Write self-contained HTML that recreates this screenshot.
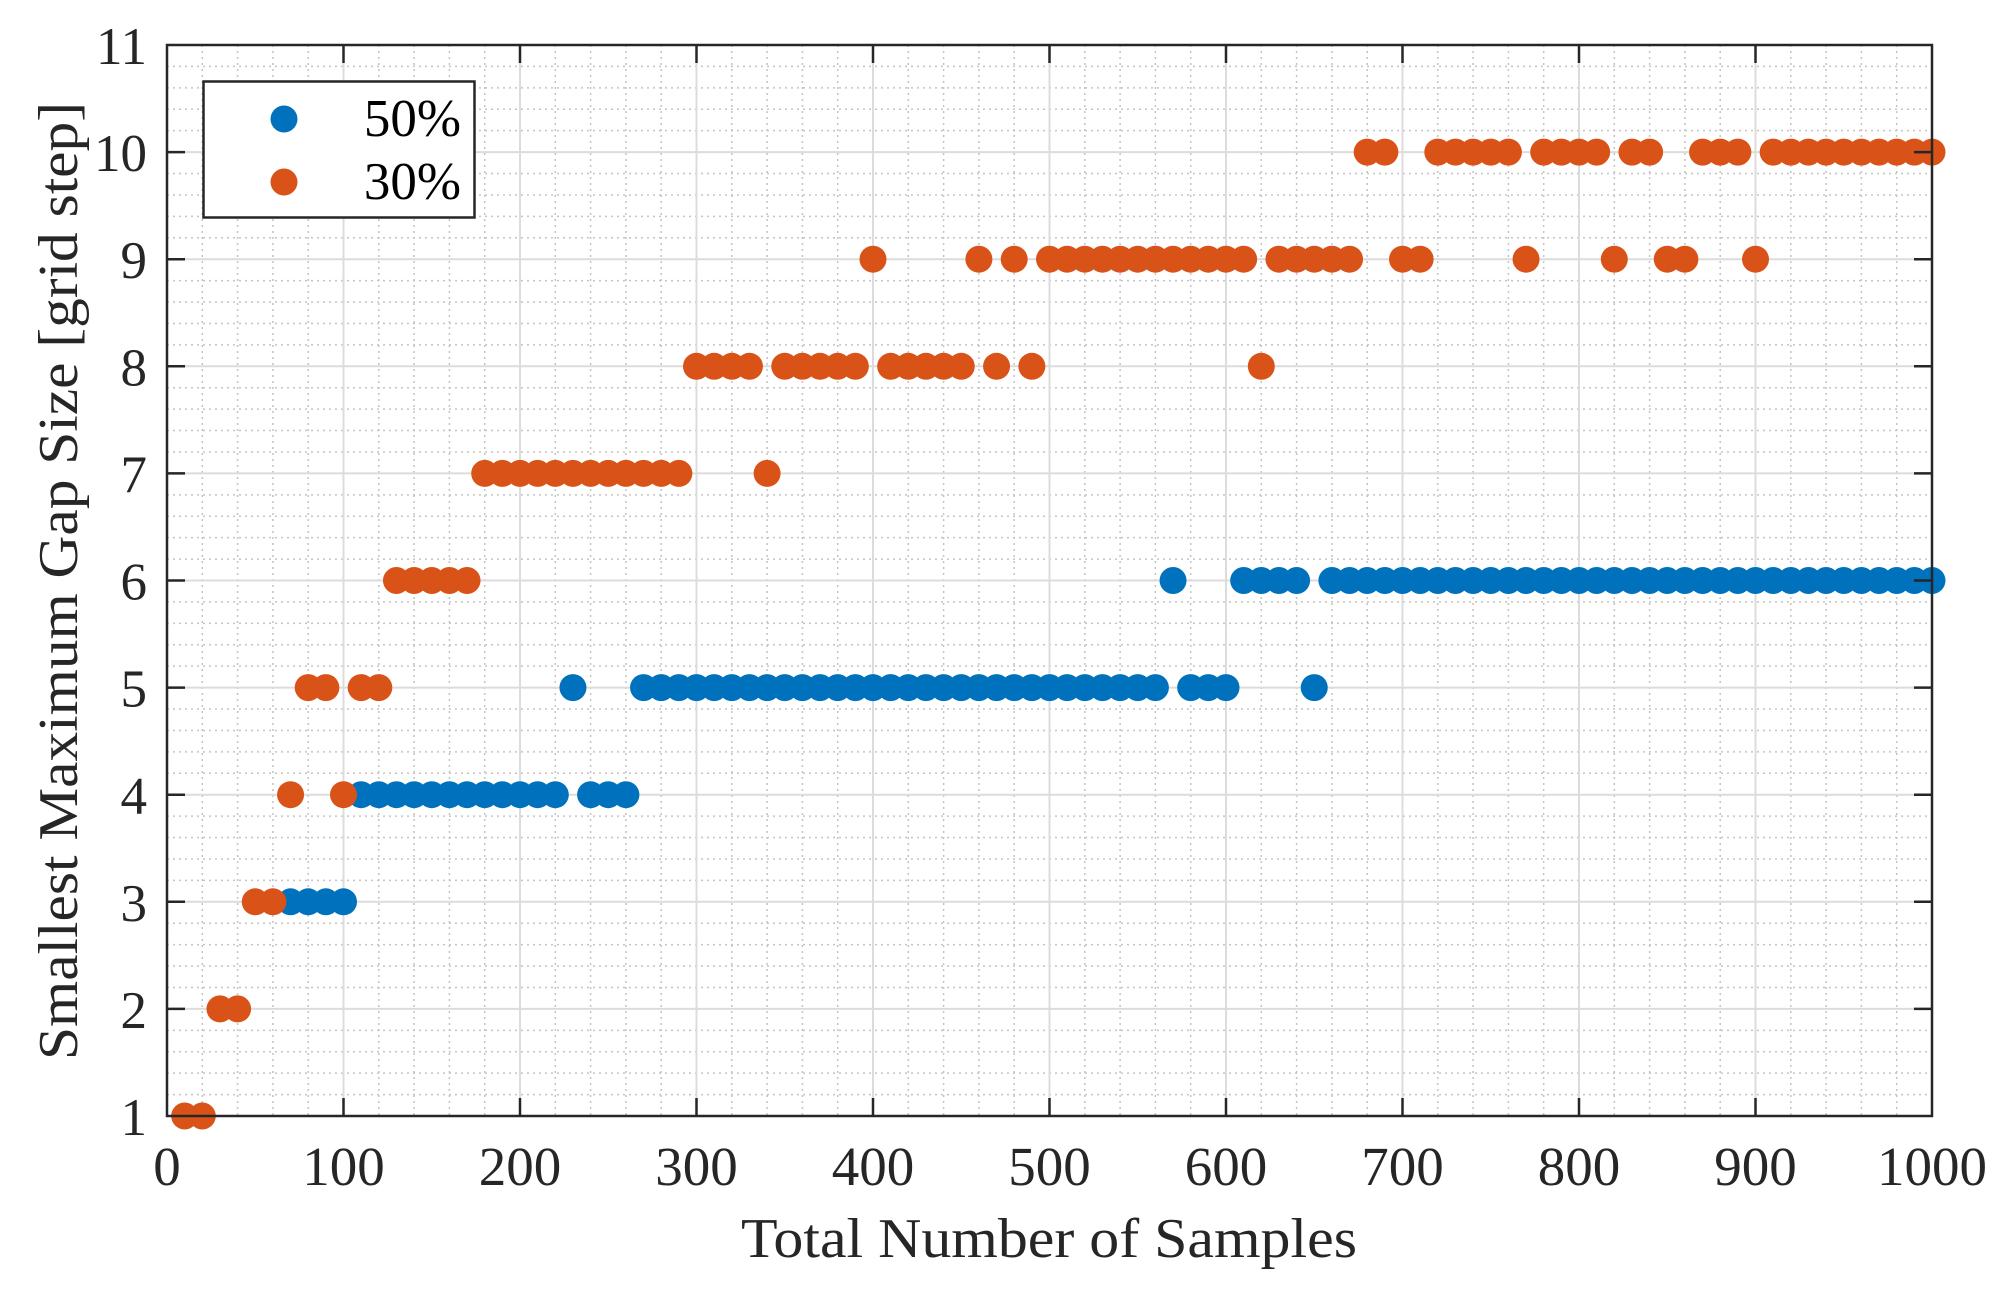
<!DOCTYPE html>
<html><head><meta charset="utf-8"><style>
html,body{margin:0;padding:0;background:#fff;}
svg{display:block;font-family:"Liberation Serif",serif;}
</style></head><body>
<svg id="s" width="2004" height="1299" xmlns="http://www.w3.org/2000/svg">
<rect width="2004" height="1299" fill="#fff"/>
<g id="grid"></g>
<g id="pts"></g>
<rect x="167" y="45" width="1765" height="1071" fill="none" stroke="#262626" stroke-width="2.5"/>
<g id="ticks"></g>
<g id="labels" fill="#262626" font-size="53"></g>
<text x="1049" y="1257" font-size="56" text-anchor="middle" fill="#262626" textLength="616" lengthAdjust="spacingAndGlyphs">Total Number of Samples</text>
<text transform="translate(77,581) rotate(-90)" font-size="56" text-anchor="middle" fill="#262626" textLength="958" lengthAdjust="spacingAndGlyphs">Smallest Maximum Gap Size [grid step]</text>
<rect x="203.5" y="81.5" width="271" height="136" fill="#fff" stroke="#262626" stroke-width="2.5"/>
<circle cx="284" cy="119" r="13.5" fill="#0072BD"/>
<circle cx="284" cy="182" r="13.5" fill="#D95319"/>
<text x="461" y="136" font-size="53" text-anchor="end" fill="#000">50%</text>
<text x="461" y="199" font-size="53" text-anchor="end" fill="#000">30%</text>
</svg>
<script>
var NS="http://www.w3.org/2000/svg";
function X(v){return 167+v*1.765;}
function Y(v){return 1116-(v-1)*107.1;}
function el(p,t,a){var e=document.createElementNS(NS,t);for(var k in a)e.setAttribute(k,a[k]);p.appendChild(e);return e;}
var g=document.getElementById('grid');
for(var v=20;v<1000;v+=20){if(v%100)el(g,'line',{x1:X(v),x2:X(v),y1:45,y2:1116,stroke:'#c4c4c4','stroke-width':1.5,'stroke-dasharray':'2,4'});}
for(var i=1;i<50;i++){if(i%5)el(g,'line',{x1:167,x2:1932,y1:Y(1+i*0.2),y2:Y(1+i*0.2),stroke:'#c4c4c4','stroke-width':1.5,'stroke-dasharray':'2,4'});}
for(var v=100;v<1000;v+=100)el(g,'line',{x1:X(v),x2:X(v),y1:45,y2:1116,stroke:'#dcdcdc','stroke-width':2});
for(var v=2;v<11;v++)el(g,'line',{x1:167,x2:1932,y1:Y(v),y2:Y(v),stroke:'#dcdcdc','stroke-width':2});
var t=document.getElementById('ticks');
for(var v=100;v<1000;v+=100){el(t,'line',{x1:X(v),x2:X(v),y1:1116,y2:1098,stroke:'#262626','stroke-width':2.5});el(t,'line',{x1:X(v),x2:X(v),y1:45,y2:63,stroke:'#262626','stroke-width':2.5});}
for(var v=2;v<11;v++){el(t,'line',{x1:167,x2:185,y1:Y(v),y2:Y(v),stroke:'#262626','stroke-width':2.5});el(t,'line',{x1:1932,x2:1914,y1:Y(v),y2:Y(v),stroke:'#262626','stroke-width':2.5});}
var L=document.getElementById('labels');
for(var v=0;v<=1000;v+=100){var e=el(L,'text',{x:X(v),y:1185,'text-anchor':'middle','font-size':55});e.textContent=v;}
for(var v=1;v<=11;v++){var e=el(L,'text',{x:147,y:Y(v)+19,'text-anchor':'end','font-size':53});e.textContent=v;}
function R(a,b){var r=[];for(var v=a;v<=b;v+=10)r.push(v);return r;}
var blue={3:R(70,100),4:R(110,220).concat([240,250,260]),5:[230].concat(R(270,560),[580,590,600,650]),6:[570].concat(R(610,640),R(660,1000))};
var orange={1:[10,20],2:[30,40],3:[50,60],4:[70,100],5:[80,90,110,120],6:R(130,170),7:R(180,290).concat([340]),
8:R(300,330).concat(R(350,390),R(410,450),[470,490,620]),
9:[400,460,480].concat(R(500,610),R(630,670),[700,710,770,820,850,860,900]),
10:[680,690].concat(R(720,760),R(780,810),[830,840],R(870,890),R(910,1000))};
var P=document.getElementById('pts');
function draw(d,c){for(var k in d)d[k].forEach(function(v){el(P,'circle',{cx:X(v),cy:Y(+k),r:13.5,fill:c});});}
draw(blue,'#0072BD');draw(orange,'#D95319');
</script>
</body></html>
